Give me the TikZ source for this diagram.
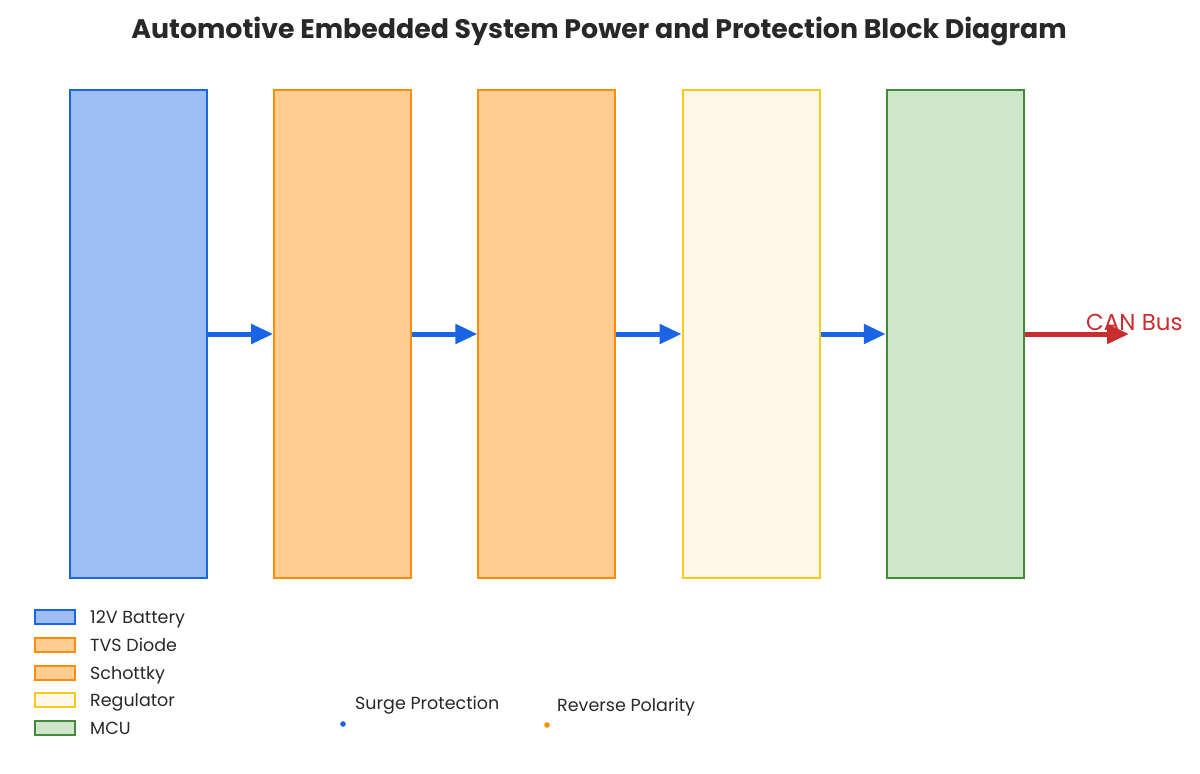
\documentclass[tikz,border=0pt]{standalone}
\usepackage{fontspec}
\setmainfont{Poppins}
\usetikzlibrary{arrows.meta,positioning}
\definecolor{battblue}{RGB}{26,100,230}
\definecolor{battfill}{RGB}{157,189,245}
\definecolor{protorange}{RGB}{255,140,10}
\definecolor{protfill}{RGB}{255,205,145}
\definecolor{regyellow}{RGB}{247,202,24}
\definecolor{regfill}{RGB}{255,248,232}
\definecolor{mcugreen}{RGB}{64,138,58}
\definecolor{mcufill}{RGB}{207,230,203}
\definecolor{canred}{RGB}{200,45,48}
\definecolor{labelgray}{RGB}{40,40,40}

\begin{document}
\begin{tikzpicture}[x=1pt,y=-1pt,node distance=65.2pt,
  every node/.style={inner sep=0pt},
  block/.style={draw,line width=2pt,minimum width=137pt,minimum height=488pt},
  swatch/.style={draw,line width=2pt,minimum width=40pt,minimum height=14pt},
  legtext/.style={font=\fontsize{17.5}{20}\selectfont,text=labelgray,anchor=base west},
  flow/.style={line width=5pt,battblue,-{Triangle[length=22pt,width=19pt]}}]
\useasboundingbox (0,0) rectangle (1200,774);
\node[font=\fontsize{26.8}{30}\selectfont\bfseries,text=labelgray] (title) at (599,31.5) {Automotive Embedded System Power and Protection Block Diagram};
% power path
\node[block,draw=battblue,fill=battfill] (battery) at (138.5,334) {};
\node[block,draw=protorange,fill=protfill,right=of battery] (tvs) {};
\node[block,draw=protorange,fill=protfill,right=of tvs] (schottky) {};
\node[block,draw=regyellow,fill=regfill,right=of schottky] (regulator) {};
\node[block,draw=mcugreen,fill=mcufill,right=of regulator] (mcu) {};
\coordinate (canend) at (1129,334);
\draw[flow] (battery.east)--(tvs.west); \draw[flow] (tvs.east)--(schottky.west); \draw[flow] (schottky.east)--(regulator.west); \draw[flow] (regulator.east)--(mcu.west);
\draw[flow,canred] (mcu.east)--(canend);
\node[font=\fontsize{23}{26}\selectfont,text=canred,anchor=base west] (canlabel) at (1086,330) {CAN Bus};
% legend
\node[swatch,draw=battblue,fill=battfill] (lg1) at (55,617) {};
\node[swatch,draw=protorange,fill=protfill] (lg2) at (55,645) {};
\node[swatch,draw=protorange,fill=protfill] (lg3) at (55,673) {};
\node[swatch,draw=regyellow,fill=regfill] (lg4) at (55,700) {};
\node[swatch,draw=mcugreen,fill=mcufill] (lg5) at (55,728) {};
\node[legtext] (lt1) at (90,623.5) {12V Battery};
\node[legtext] (lt2) at (90,651) {TVS Diode};
\node[legtext] (lt3) at (90,679) {Schottky};
\node[legtext] (lt4) at (90,706.5) {Regulator};
\node[legtext] (lt5) at (90,734) {MCU};
\fill[battblue] (343,724) circle (2.8);
\node[legtext] (surge) at (355,709.5) {Surge Protection};
\fill[protorange] (547,725) circle (2.8);
\node[legtext] (reverse) at (557,711.5) {Reverse Polarity};
\end{tikzpicture}
\end{document}
